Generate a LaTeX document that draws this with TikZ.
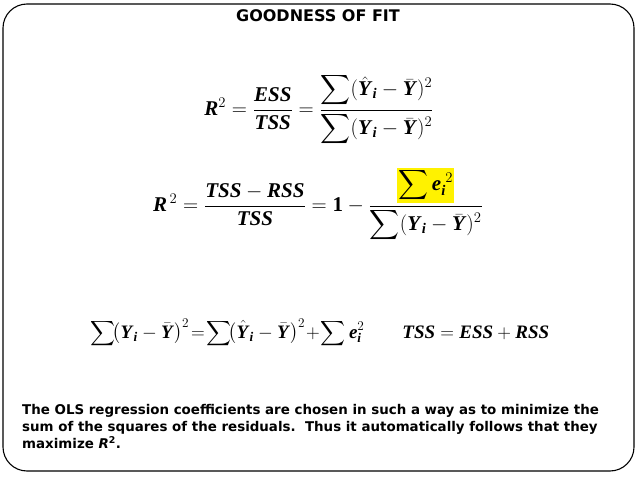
\documentclass[tikz,border=0pt]{standalone}
\usepackage{fix-cm}
\usepackage{amsmath}
\usepackage[no-math]{fontspec}
\setmainfont{Liberation Serif}
\newfontfamily\vfont{DejaVu Sans}
\newcommand{\V}[1]{\textbf{\textit{#1}}}
\begin{document}
\begin{tikzpicture}[x=1pt,y=1pt,
  eq/.style={inner sep=0pt,font=\fontsize{21}{25}\selectfont\bfseries},
  txt/.style={inner sep=0pt,font=\vfont\bfseries\fontsize{13.4}{17}\selectfont,align=left,anchor=north west}]
\useasboundingbox (0,0) rectangle (638,-479);
\draw[line width=1.1pt,rounded corners=24pt] (3,-4) rectangle (634,-471);
\node[inner sep=0pt,font=\vfont\bfseries\fontsize{16}{18}\selectfont] (title) at (318,-16) {GOODNESS OF FIT};
\node[eq] (f1) at (319,-110) {$\V{R}^2=\dfrac{\V{ESS}}{\V{TSS}}=\dfrac{\displaystyle\sum(\hat{\V{Y}}_{\V{i}}-\bar{\V{Y}})^2}{\displaystyle\sum(\V{Y}_{\V{i}}-\bar{\V{Y}})^2}$};
\node[eq] (f2) at (318,-205) {$\V{R}^{\,2}=\dfrac{\V{TSS}-\V{RSS}}{\V{TSS}}=\textbf{1}-\dfrac{\setlength{\fboxsep}{1pt}\colorbox{yellow}{$\displaystyle\sum\V{e}_{\V{i}}^{\;2}$}}{\displaystyle\sum(\V{Y}_{\V{i}}-\bar{\V{Y}})^2}$};
\node[eq,font=\fontsize{19}{23}\selectfont\bfseries] (f3) at (320,-333) {$\displaystyle\sum\!\bigl(\V{Y}_{\V{i}}-\bar{\V{Y}}\bigr)^2\!=\!\sum\!\bigl(\hat{\V{Y}}_{\V{i}}-\bar{\V{Y}}\bigr)^2\!+\!\sum\V{e}_{\V{i}}^2\qquad \V{TSS}=\V{ESS}+\V{RSS}$};
\node[txt] (t) at (22,-404) {The OLS regression coefficients are chosen in such a way as to minimize the\\sum of the squares of the residuals.\ \ Thus it automatically follows that they\\maximize \textit{R}$^{\textbf{2}}$.};
\end{tikzpicture}
\end{document}
